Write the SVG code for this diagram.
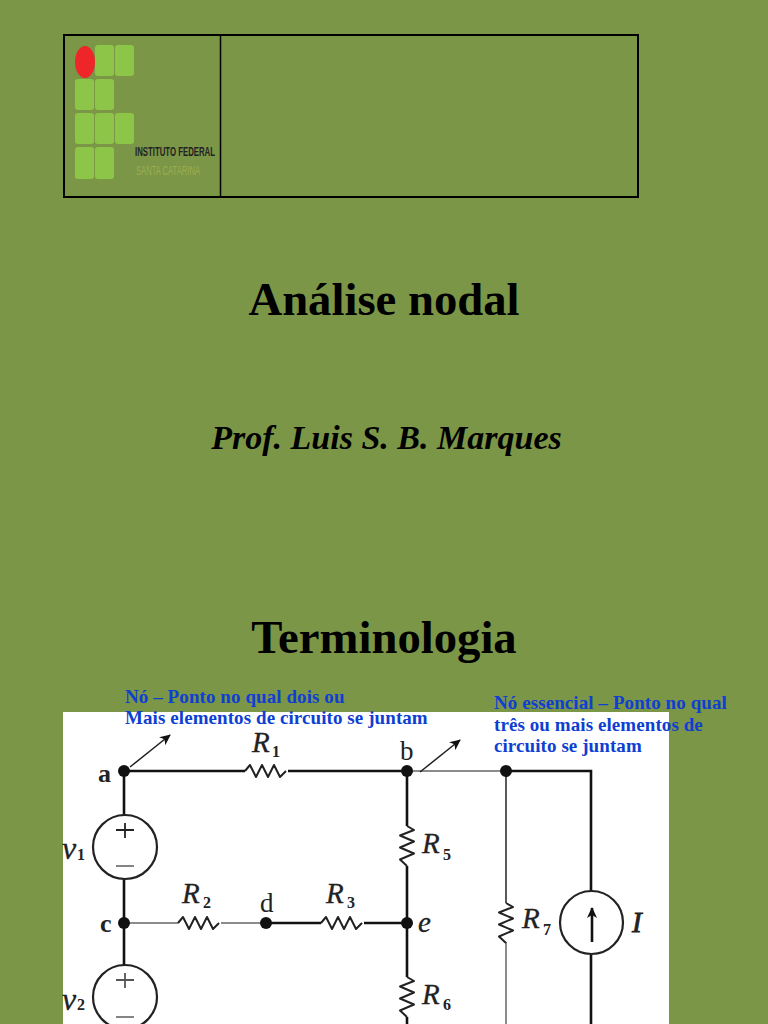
<svg xmlns="http://www.w3.org/2000/svg" width="768" height="1024" viewBox="0 0 768 1024">
<style>
.t{font-family:"Liberation Serif",serif;font-weight:bold;fill:#000}
.b{font-family:"Liberation Serif",serif;font-weight:bold;font-size:19px;letter-spacing:.08px;fill:#0f3fd2}
.w{fill:none;stroke:#111;stroke-width:2.6;stroke-linejoin:miter}
.n{fill:none;stroke:#222;stroke-width:1.5}
.th{fill:none;stroke:#666;stroke-width:1.5}
.g{fill:#8dc549}
.c{font-family:"Liberation Serif",serif;font-weight:bold;fill:#222;font-size:26px}
.l{font-family:"Liberation Serif",serif;fill:#222;font-size:27px}
.ci{font-family:"Liberation Serif",serif;font-style:italic;fill:#222;font-size:29px;stroke:#222;stroke-width:.3}
.s{font-family:"Liberation Serif",serif;fill:#222;font-size:16px;font-weight:bold}
.d{fill:#111}
</style>
<defs>
<path id="rh" d="M0 0l5 -6 6 12 6 -12 6 12 6 -12 6 12 6 -6" fill="none" stroke="#222" stroke-width="2" stroke-linejoin="round"/>
<path id="rv" d="M0 0l7 4 -14 5.500 14 6 -14 6 14 6 -14 6 7 6.500" fill="none" stroke="#222" stroke-width="2" stroke-linejoin="round"/>
<marker id="ah" markerWidth="13" markerHeight="12" refX="10" refY="6" orient="auto" markerUnits="userSpaceOnUse"><path d="M0 1L11 6L0 11L3 6Z" fill="#111"/></marker>
</defs>
<rect width="768" height="1024" fill="#7c9647"/>
<g id="header">
<rect x="64" y="35" width="574" height="162" fill="none" stroke="#000" stroke-width="2"/>
<line x1="220.500" y1="35" x2="220.500" y2="197" stroke="#000" stroke-width="1.500"/>
</g>
<g id="logo">
<rect class="g" x="95" y="45" width="19" height="31" rx="3"/>
<rect class="g" x="115" y="45" width="19" height="31" rx="3"/>
<rect class="g" x="75" y="79" width="19" height="31" rx="3"/>
<rect class="g" x="95" y="79" width="19" height="31" rx="3"/>
<rect class="g" x="75" y="113" width="19" height="31" rx="3"/>
<rect class="g" x="95" y="113" width="19" height="31" rx="3"/>
<rect class="g" x="115" y="113" width="19" height="31" rx="3"/>
<rect class="g" x="75" y="147" width="19" height="32" rx="3"/>
<rect class="g" x="95" y="147" width="19" height="32" rx="3"/>
<ellipse cx="85" cy="62" rx="10" ry="16" fill="#ee2529"/>
<text x="135" y="156" font-family="Liberation Sans,sans-serif" font-weight="bold" font-size="12" fill="#222" textLength="80" lengthAdjust="spacingAndGlyphs">INSTITUTO FEDERAL</text>
<text x="136" y="175" font-family="Liberation Sans,sans-serif" font-size="12" fill="#9bae50" textLength="64" lengthAdjust="spacingAndGlyphs">SANTA CATARINA</text>
</g>
<text class="t" x="384" y="315" font-size="46.700" text-anchor="middle">Análise nodal</text>
<text class="t" x="386.500" y="449" font-size="34" font-style="italic" text-anchor="middle">Prof. Luis S. B. Marques</text>
<text class="t" x="384" y="653" font-size="46.700" text-anchor="middle">Terminologia</text>
<rect id="circuit-bg" x="63" y="712" width="606" height="312" fill="#fff"/>
<g id="connectors">
<path class="w" d="M124 771H245M288 771H407"/>
<path class="w" d="M124 771V816M124 879V965"/>
<path class="w" d="M407 771V826M407 866V977M407 1017V1024"/>
<path class="th" d="M124 923H178"/>
<path class="th" d="M221 923H266" stroke="#6a8a80"/>
<path class="w" d="M266 923H321M364 923H407"/>
<path class="th" d="M407 771H506"/>
<path class="w" d="M506 771H591V891M591 954V1024"/>
<path class="n" d="M506 771V903"/>
<path class="th" d="M506 942V1024"/>
<use href="#rh" x="245" y="771"/>
<use href="#rh" x="178" y="923"/>
<use href="#rh" x="321" y="923"/>
<use href="#rv" x="407" y="826"/>
<use href="#rv" x="407" y="977"/>
<use href="#rv" x="506" y="903"/>
<line class="n" x1="130" y1="767" x2="170" y2="735" marker-end="url(#ah)"/>
<line class="n" x1="420" y1="772" x2="460" y2="740" marker-end="url(#ah)"/>
<line x1="592" y1="942" x2="592" y2="908" stroke="#111" stroke-width="2.600" marker-end="url(#ah)"/>
</g>
<g id="node-a"><circle class="d" cx="124" cy="771" r="6"/><text class="c" x="98" y="782">a</text></g>
<g id="node-b"><circle class="d" cx="407" cy="771" r="6"/><text class="l" x="400" y="760">b</text></g>
<g id="node-j"><circle class="d" cx="506" cy="771" r="6"/></g>
<g id="node-c"><circle class="d" cx="124" cy="923" r="6"/><text class="c" x="100" y="932">c</text></g>
<g id="node-d"><circle class="d" cx="266" cy="923" r="6"/><text class="l" x="260" y="912">d</text></g>
<g id="node-e"><circle class="d" cx="407" cy="923" r="6"/><text class="ci" x="418" y="932">e</text></g>
<g id="r1"><text class="ci" x="252" y="752">R</text><text class="s" x="272" y="757">1</text></g>
<g id="r2"><text class="ci" x="182" y="903">R</text><text class="s" x="203" y="908">2</text></g>
<g id="r3"><text class="ci" x="326" y="903">R</text><text class="s" x="347" y="908">3</text></g>
<g id="r5"><text class="ci" x="422" y="853">R</text><text class="s" x="443" y="860">5</text></g>
<g id="r6"><text class="ci" x="422" y="1004">R</text><text class="s" x="443" y="1010">6</text></g>
<g id="r7"><text class="ci" x="522" y="928">R</text><text class="s" x="543" y="935">7</text></g>
<g id="v1"><circle cx="125" cy="847" r="32" fill="none" stroke="#222" stroke-width="2.200"/><path d="M116 830H134M125 823V838" stroke="#222" stroke-width="1.800"/><path d="M116 866H134" stroke="#777" stroke-width="1.800"/><text class="ci" x="62" y="859" style="font-size:32px">v</text><text class="s" x="77" y="860">1</text></g>
<g id="v2"><circle cx="125" cy="997" r="32" fill="none" stroke="#222" stroke-width="2.200"/><path d="M116 980H134M125 973V988" stroke="#555" stroke-width="1.800"/><path d="M116 1017H134" stroke="#777" stroke-width="1.800"/><text class="ci" x="62" y="1010" style="font-size:32px">v</text><text class="s" x="77" y="1010">2</text></g>
<g id="source-i"><circle cx="591.500" cy="922.500" r="31.500" fill="none" stroke="#222" stroke-width="2.200"/><text class="ci" x="632" y="932" style="stroke-width:.8">I</text></g>
<g id="labels">
<text class="b" x="125" y="703">Nó – Ponto no qual dois ou</text>
<text class="b" x="125" y="724">Mais elementos de circuito se juntam</text>
<text class="b" x="494" y="709">Nó essencial – Ponto no qual</text>
<text class="b" x="494" y="731">três ou mais elementos de</text>
<text class="b" x="494" y="752">circuito se juntam</text>
</g>
</svg>
